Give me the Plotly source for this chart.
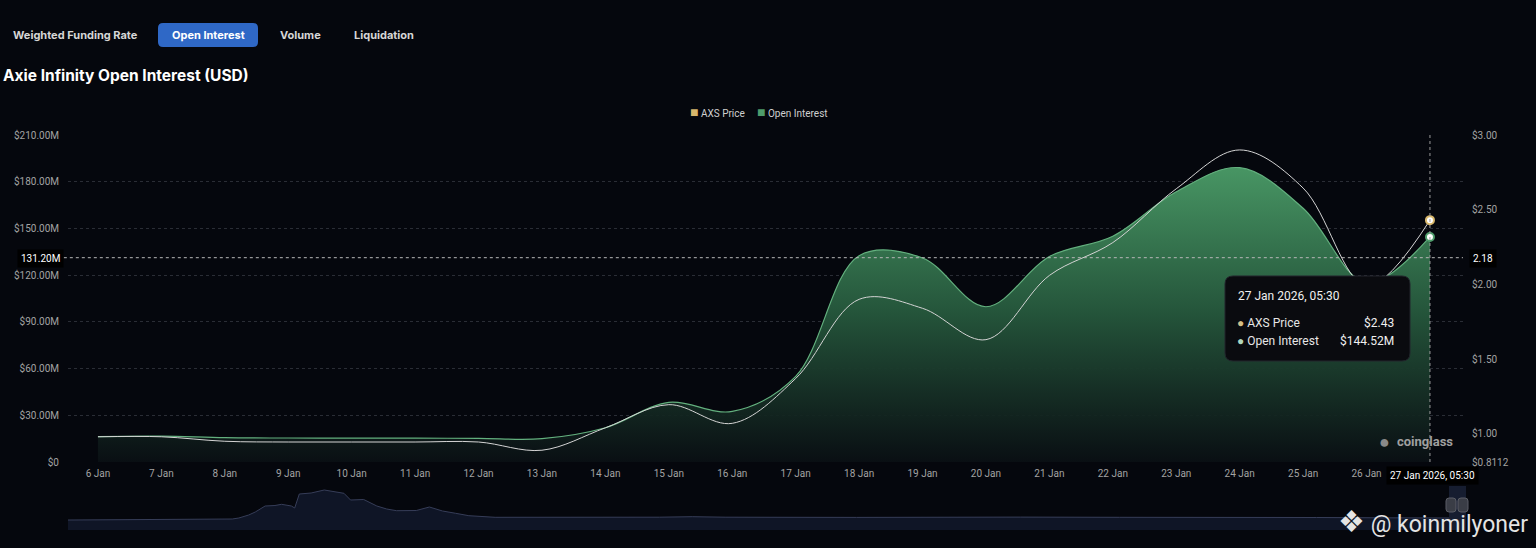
import plotly.graph_objects as go

# ---- data ----
dates = ["2026-01-%02d 05:30" % d for d in range(6, 28)]
tick_labels = ["%d Jan" % d for d in range(6, 27)]

open_interest = [16.3, 16.6, 15.6, 15.4, 15.3, 15.3, 15.2, 15.0, 22.0, 38.3, 32.5,
                 55.0, 132.5, 131.0, 99.7, 132.0, 145.0, 173.5, 189.0, 163.0, 115.0, 144.52]
axs_price = [0.98, 0.98, 0.95, 0.945, 0.945, 0.945, 0.945, 0.89, 1.04, 1.195, 1.07,
             1.37, 1.90, 1.84, 1.63, 2.06, 2.28, 2.64, 2.90, 2.645, 1.99, 2.43]

oi_ticks = [0, 30, 60, 90, 120, 150, 180, 210]
oi_ticktext = ["$0", "$30.00M", "$60.00M", "$90.00M", "$120.00M", "$150.00M", "$180.00M", "$210.00M"]
price_ticks = [0.8112, 1.0, 1.5, 2.0, 2.5, 3.0]
price_ticktext = ["$0.8112", "$1.00", "$1.50", "$2.00", "$2.50", "$3.00"]

# navigator (mini overview), day offset / relative height
nav_day = [0, 1, 2, 2.5, 2.6, 2.75, 2.85, 3.0, 3.15, 3.25, 3.4, 3.45, 3.52, 3.7, 3.9,
           4.05, 4.2, 4.3, 4.5, 4.7, 4.85, 5.0, 5.3, 5.5, 5.7, 5.9, 6.1, 6.5, 8, 9,
           9.5, 10, 12, 13.5, 14, 14.5, 16, 17.5, 19, 20, 21.23]
nav_val = [10, 10.2, 10.5, 11, 12, 15, 18, 24, 24.5, 25.7, 24, 22, 36, 37, 40,
           38.5, 36.7, 30, 30.5, 24, 21, 19.3, 19.5, 23, 19, 16.7, 14.3, 12.7, 12.5, 12.8,
           13.3, 12.8, 12.6, 12.9, 13.3, 12.9, 12.7, 12.9, 12.5, 12.2, 12]

cross_oi = 131.2
cross_price = "2.18"

BG = "#05070d"
FONT = "Roboto"

# plot area in screen pixels: 68..1463 x 135..530
FIG_W, FIG_H = 1536, 548
L, T = 68, 135
R = FIG_W - 1463
B = FIG_H - 530
W, H = 1463 - 68, 530 - 135


def px(x):
    return (x - 68) / W


def py(y):
    return (530 - y) / H


def rounded_rect(x0, y0, x1, y1, r):
    rx, ry = r / W, r / H
    a, b, c, d = px(x0), px(x1), py(y0), py(y1)  # c top, d bottom
    return (f"M{a+rx},{c} L{b-rx},{c} Q{b},{c} {b},{c-ry} L{b},{d+ry} Q{b},{d} {b-rx},{d} "
            f"L{a+rx},{d} Q{a},{d} {a},{d+ry} L{a},{c-ry} Q{a},{c} {a+rx},{c} Z")


fig = go.Figure()

fig.add_trace(go.Scatter(
    x=dates, y=open_interest, name="Open Interest", mode="lines",
    line=dict(color="#63b07e", width=1.2, shape="spline", smoothing=1.0),
    fill="tozeroy",
    fillgradient=dict(type="vertical", start=0, stop=190,
                      colorscale=[[0, "rgba(10,16,20,0.9)"], [0.5, "rgb(36,84,58)"],
                                  [1, "rgb(72,150,100)"]]),
    yaxis="y", xaxis="x", showlegend=False))

fig.add_trace(go.Scatter(
    x=dates, y=axs_price, name="AXS Price", mode="lines",
    line=dict(color="#d4d4d4", width=1, shape="spline", smoothing=1.0),
    yaxis="y2", xaxis="x", showlegend=False))

# hover markers at the last point
fig.add_trace(go.Scatter(
    x=[dates[-1]], y=[axs_price[-1]], mode="markers", yaxis="y2", xaxis="x",
    marker=dict(size=8, color="white", line=dict(color="#d9b86c", width=2)), showlegend=False))
fig.add_trace(go.Scatter(
    x=[dates[-1]], y=[open_interest[-1]], mode="markers", yaxis="y", xaxis="x",
    marker=dict(size=8, color="white", line=dict(color="#4f9e6c", width=2)), showlegend=False))

# navigator
fig.add_trace(go.Scatter(
    x=nav_day, y=nav_val, mode="lines", line=dict(color="#363d58", width=1),
    fill="tozeroy", fillcolor="#0f1526", xaxis="x2", yaxis="y3", showlegend=False))

axis_font = dict(family=FONT, size=10, color="#a3a3a3")

fig.update_layout(
    width=FIG_W, height=FIG_H,
    paper_bgcolor=BG, plot_bgcolor=BG,
    margin=dict(l=L, r=R, t=T, b=B),
    font=dict(family=FONT, color="#dddddd"),
    xaxis=dict(type="date", range=["2026-01-05 18:10", "2026-01-27 18:00"],
               tickvals=dates[:-1], ticktext=tick_labels, tickfont=axis_font,
               showgrid=False, zeroline=False, showline=False, ticks="",
               ticklabelstandoff=4, anchor="y"),
    yaxis=dict(domain=[py(462), 1], range=[0, 210], tickvals=oi_ticks, ticktext=oi_ticktext,
               tickfont=axis_font, gridcolor="#2a2d35", griddash="3px,3px", gridwidth=1,
               zeroline=False, showline=False, ticks="", ticklabelstandoff=8),
    yaxis2=dict(overlaying="y", side="right", range=[0.8112, 3.0], tickvals=price_ticks,
                ticktext=price_ticktext, tickfont=axis_font, showgrid=False,
                zeroline=False, showline=False, ticks="", ticklabelstandoff=8),
    xaxis2=dict(range=[0, 21.23], anchor="y3", visible=False),
    yaxis3=dict(domain=[0, py(485)], range=[0, 45], visible=False),
    hovermode=False,
)

# crosshair
fig.add_shape(type="line", xref="paper", yref="y", x0=-0.003, x1=1, y0=cross_oi, y1=cross_oi,
              line=dict(color="#b8b8b8", width=1, dash="3px,3px"))
fig.add_shape(type="line", xref="x", yref="y", x0=dates[-1], x1=dates[-1], y0=0, y1=210,
              line=dict(color="#9a9a9a", width=1, dash="3px,3px"))

# tooltip box
fig.add_shape(type="path", xref="paper", yref="paper", path=rounded_rect(1225, 276, 1410, 361, 8),
              fillcolor="#0a0b0f", line=dict(color="#22252c", width=1))

# top button
fig.add_shape(type="path", xref="paper", yref="paper", path=rounded_rect(158, 23, 258, 47, 5),
              fillcolor="#2f68c6", line=dict(width=0))

# navigator handle
fig.add_shape(type="rect", xref="paper", yref="paper", x0=px(1449), x1=px(1466), y0=py(530), y1=py(486),
              fillcolor="#161d30", line=dict(width=0))
for hx in (1451, 1463):
    fig.add_shape(type="path", xref="paper", yref="paper", path=rounded_rect(hx - 5, 498, hx + 5, 512, 3),
                  fillcolor="#3a3d46", line=dict(color="#5a5d66", width=1))

ann = []


def text(x, y, s, size=10, color="#dddddd", anchor="center", bg=None, family=FONT, pad=1):
    ann.append(dict(x=px(x), y=py(y), xref="paper", yref="paper", text=s, showarrow=False,
                    xanchor=anchor, yanchor="middle", bgcolor=bg, borderpad=pad,
                    font=dict(size=size, color=color, family=family)))


# buttons and title
text(75, 35, "<b>Weighted Funding Rate</b>", 11, "#d6d6d6", family="Inter")
text(208, 35, "<b>Open Interest</b>", 11, "#ffffff", family="Inter")
text(300, 35, "<b>Volume</b>", 11, "#d6d6d6", family="Inter")
text(384, 35, "<b>Liquidation</b>", 11, "#d6d6d6", family="Inter")
text(1, 75, "<b>Axie Infinity Open Interest (USD)</b>", 15.5, "#ffffff", "left", family="Inter")

# legend
text(688, 112, "<span style='color:#d8b86d;font-size:14px'>■</span> AXS Price", 10, "#cfcfcf", "left")
text(755, 112, "<span style='color:#4e9c6b;font-size:14px'>■</span> Open Interest", 10, "#cfcfcf", "left")

# crosshair labels
text(40, 258, "131.20M", 10, "#ffffff", bg="#000000", pad=3)
text(1483, 258, cross_price, 10, "#ffffff", bg="#000000", pad=3)
text(1432, 475, "27 Jan 2026, 05:30", 10, "#ffffff", bg="#000000", pad=3)

# tooltip content
text(1236, 296, "27 Jan 2026, 05:30", 12, "#f0f0f0", "left")
text(1235, 323, "<span style='color:#d6bf86'>●</span> AXS Price", 12, "#e6e6e6", "left")
text(1396, 323, "$2.43", 12, "#f0f0f0", "right")
text(1235, 341, "<span style='color:#b0d6bd'>●</span> Open Interest", 12, "#e6e6e6", "left")
text(1396, 341, "$144.52M", 12, "#f0f0f0", "right")

# watermarks
text(1455, 441, "<b>coinglass</b>", 13, "#a0a0a0", "right")
text(1384, 441, "●", 18, "#8a8a8a")
text(1530, 521, "<span style='font-size:30px'>❖</span> @ koinmilyoner", 23, "#e4e4e4", "right")

fig.update_layout(annotations=ann)

# drop the default page margin so the figure fills the window
page_css = ("document.body.style.margin='0';document.body.style.overflow='hidden';"
            "document.body.style.background='%s';" % BG)
fig.write_html("out.html", post_script=page_css, config={"displayModeBar": False})
